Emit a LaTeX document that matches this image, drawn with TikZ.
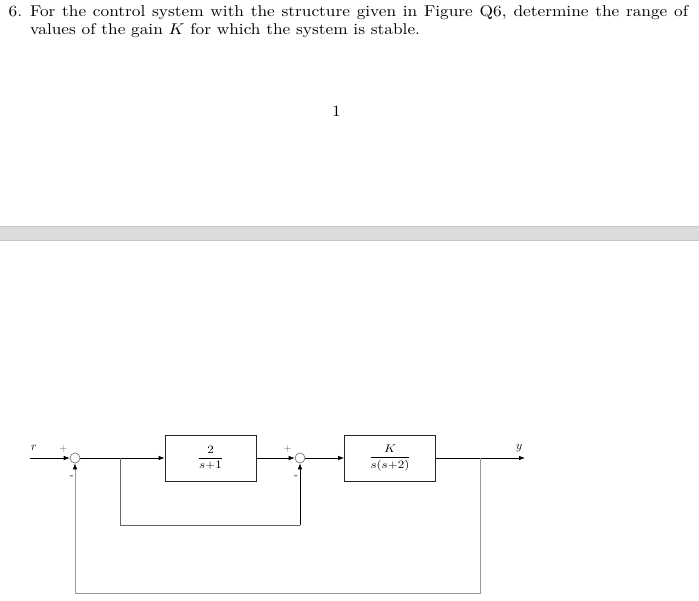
\documentclass[tikz,border=0pt]{standalone}
\usetikzlibrary{arrows.meta}
\definecolor{plusc}{RGB}{110,70,120}
\definecolor{minusc}{RGB}{70,70,70}
\newcommand{\bodyline}[1]{\scalebox{1.73}[1.56]{\fontsize{10}{12}\selectfont #1}}
\newcommand{\blockmath}[1]{\scalebox{1.3}[1.12]{\fontsize{10}{12}\selectfont #1}}
\begin{document}
\begin{tikzpicture}[x=1pt,y=-1pt,
  sig/.style={line width=0.7pt,-{Latex[length=6pt,width=4.5pt]}},
  fbinner/.style={line width=0.7pt,draw=black!60},
  fbouter/.style={line width=0.8pt,draw=black!40},
  blockbox/.style={draw=black!85,line width=0.7pt,minimum width=91pt,minimum height=46pt,inner sep=0pt},
  sumnode/.style={circle,draw=black!60,line width=0.6pt,minimum size=10pt,inner sep=0pt,fill=white},
  sgn/.style={inner sep=0pt,font=\fontsize{10}{11}\selectfont},
  lbl/.style={inner sep=0pt,font=\fontsize{12.5}{14}\selectfont},
  bodytext/.style={inner sep=0pt,anchor=base west}]
\useasboundingbox (0,0) rectangle (699,600);
% question text
\node[bodytext] (num) at (8.5,16.7) {\bodyline{6.}};
\node[bodytext] (l1) at (30,16.7) {\bodyline{\hbox to 380.3pt{For the control system with the structure given in Figure Q6, determine the range of}}};
\node[bodytext] (l2) at (30,34.7) {\bodyline{values of the gain $K$ for which the system is stable.}};
\node[bodytext,anchor=base] (pg) at (336.5,116.5) {\bodyline{1}};
% page separator
\fill[gray!28] (0,226) rectangle (699,241);
\draw[gray!45,line width=1pt] (0,226.5) -- (699,226.5);
\draw[gray!45,line width=1pt] (0,240.5) -- (699,240.5);
% block diagram
\coordinate (in) at (30,458);
\node[sumnode] (s1) at (75,458) {};
\node[sumnode] (s2) at (300,458) {};
\node[blockbox] (b1) at (210.5,458) {\blockmath{$\displaystyle\frac{2}{s{+}1}$}};
\node[blockbox] (b2) at (390,458) {\blockmath{$\displaystyle\frac{K}{s(s{+}2)}$}};
\coordinate (out) at (525,458);
\coordinate (br1) at (120,458);
\coordinate (br2) at (480,458);
\coordinate (c1) at (120,525);
\coordinate (c2) at (300,525);
\coordinate (d1) at (480,593);
\coordinate (d2) at (75,593);
\draw[sig] (in) -- (s1.west);
\draw[sig] (s1.east) -- (b1.west);
\draw[sig] (b1.east) -- (s2.west);
\draw[sig] (s2.east) -- (b2.west);
\draw[sig] (b2.east) -- (out);
\draw[fbinner] (br1) -- (c1) -- (c2);
\draw[sig] (c2) -- (s2.south);
\draw[fbouter] (br2) -- (d1) -- (d2);
\draw[fbouter,line width=0.7pt,-{Latex[length=6pt,width=4.5pt,color=black]}] (d2) -- (s1.south);
% labels
\node[lbl] (lr) at (34,447.5) {$r$};
\node[lbl] (ly) at (519.3,448) {$y$};
\node[sgn,text=plusc] (p1) at (63.3,449.3) {+};
\node[sgn,text=plusc] (p2) at (287.7,449.3) {+};
\node[sgn,text=minusc] (m1) at (71.7,476.7) {\textbf{-}};
\node[sgn,text=minusc] (m2) at (296,476.7) {\textbf{-}};
\end{tikzpicture}
\end{document}
